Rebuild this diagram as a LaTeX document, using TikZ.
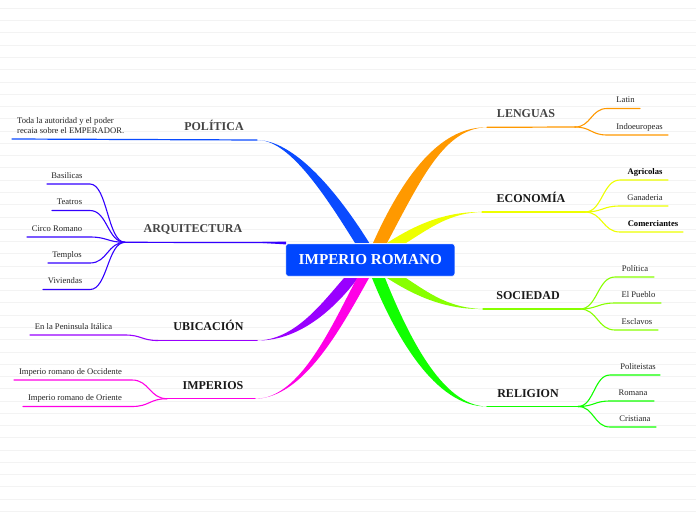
\documentclass[tikz,border=0pt]{standalone}
\usepackage{fontspec}
\setmainfont{Liberation Serif}
\usetikzlibrary{calc}
\definecolor{cmain}{HTML}{0046FF}
\definecolor{cpol}{HTML}{0A4BFF}
\definecolor{carq}{HTML}{3300FF}
\definecolor{cubi}{HTML}{9900FF}
\definecolor{cimp}{HTML}{FF00E6}
\definecolor{clen}{HTML}{FF9900}
\definecolor{ceco}{HTML}{EEFF00}
\definecolor{csoc}{HTML}{88FF00}
\definecolor{crel}{HTML}{11FF00}
\definecolor{cgrid}{HTML}{F3F3F3}
\definecolor{cdark}{HTML}{444444}
\tikzset{
  x=1pt,y=-1pt,
  branch/.style={line width=1.2pt,line cap=round},
  leafline/.style={line width=1.1pt,line cap=round},
  taper/.style={draw=none},
  small/.style={font=\fontsize{8.6}{10}\selectfont,text=black!85,inner sep=0pt},
  smallb/.style={font=\fontsize{8.6}{10}\selectfont\bfseries,text=black,inner sep=0pt},
  head/.style={font=\fontsize{12}{14}\selectfont\bfseries,text=black!90,inner sep=0pt},
  headg/.style={font=\fontsize{12}{14}\selectfont\bfseries,text=cdark,inner sep=0pt},
  mainbox/.style={fill=cmain,draw=white,line width=.6pt,rounded corners=2.5pt,minimum width=169pt,minimum height=32.5pt,inner sep=0pt,text=white,font=\fontsize{15.2}{18}\selectfont\bfseries},
}
% #1 name, #2 colour, #3 hub, #4 knee x, #5 end x, #6 y
\newcommand{\leaf}[6]{%
  \coordinate (#1k) at (#4,#6);
  \coordinate (#1e) at (#5,#6);
  \coordinate (#1m) at ($(#3)!.5!(#1k)$);
  \draw[leafline,#2] (#3) .. controls (#1m |- #3) and (#1m |- #1k) .. (#1k) -- (#1e);
}
\begin{document}
\begin{tikzpicture}
\useasboundingbox (0,0) rectangle (696,520);
\fill[white] (0,0) rectangle (696,520);
\foreach \i in {0,...,41}{
  \draw[cgrid,line width=.7pt] (0,8.3+12.27*\i) -- (696,8.3+12.27*\i);
}
% hubs and ends
\coordinate (polA) at (12,139);
\coordinate (polB) at (257,140);
\coordinate (arqH) at (125,242.3);
\coordinate (ubiH) at (158,340.5);
\coordinate (ubiB) at (257,340.5);
\coordinate (impH) at (167,398.7);
\coordinate (impB) at (255,398.7);
\coordinate (lenB) at (487,127.3);
\coordinate (lenH) at (575,127);
\coordinate (ecoB) at (482,212);
\coordinate (ecoH) at (585,212);
\coordinate (socB) at (483,309);
\coordinate (socH) at (580,309);
\coordinate (relB) at (487,406.5);
\coordinate (relH) at (578,406.5);
% thick tapered branches
\fill[taper,cpol] (355,243) .. controls (322,190) and (288,139.5) .. (polB) .. controls (292,140.5) and (333,185) .. (369.3,243) -- cycle;
\fill[taper,clen] (373,243) .. controls (408,165) and (445,126.7) .. (lenB) .. controls (445,127.9) and (422,177) .. (387,243) -- cycle;
\fill[taper,ceco] (387,243) .. controls (415,225) and (445,211.4) .. (ecoB) .. controls (450,212.8) and (430,228) .. (406,243) -- cycle;
\fill[taper,csoc] (387,278) .. controls (415,296) and (445,309.6) .. (socB) .. controls (450,308.2) and (430,294) .. (406,278) -- cycle;
\fill[taper,crel] (372,278) .. controls (395,335) and (435,407) .. (relB) .. controls (442,406) and (408,335) .. (385,278) -- cycle;
\fill[taper,cubi] (344,278) .. controls (322,303) and (295,340) .. (ubiB) .. controls (295,341) and (330,315) .. (358,278) -- cycle;
\fill[taper,cimp] (357,278) .. controls (332,325) and (300,399.3) .. (impB) .. controls (303,398.1) and (340,330) .. (369,278) -- cycle;
% thin parts of branches
\draw[branch,cpol] (polA) -- (polB);
\draw[branch,carq] (arqH) -- (280,242.6);
\fill[carq] (250,242.2) -- (286,241.6) -- (286,244.4) -- cycle;
\draw[branch,cubi] (ubiH) -- (ubiB);
\draw[branch,cimp] (impH) -- (impB);
\draw[branch,clen] (lenB) -- (lenH);
\draw[branch,ceco] (ecoB) -- (ecoH);
\draw[branch,csoc] (socB) -- (socH);
\draw[branch,crel] (relB) -- (relH);
% leaves
\leaf{a1}{carq}{arqH}{90}{47}{184}
\leaf{a2}{carq}{arqH}{90}{52}{210.5}
\leaf{a3}{carq}{arqH}{90}{27}{237}
\leaf{a4}{carq}{arqH}{90}{48}{263}
\leaf{a5}{carq}{arqH}{90}{43}{289.5}
\leaf{u1}{cubi}{ubiH}{125}{30}{335}
\leaf{i1}{cimp}{impH}{132}{14}{380}
\leaf{i2}{cimp}{impH}{132}{23}{406.5}
\leaf{l1}{clen}{lenH}{607}{640}{108.5}
\leaf{l2}{clen}{lenH}{607}{668}{135}
\leaf{e1}{ceco}{ecoH}{620}{668}{180}
\leaf{e2}{ceco}{ecoH}{620}{668}{206}
\leaf{e3}{ceco}{ecoH}{620}{683}{232}
\leaf{s1}{csoc}{socH}{615}{654}{277}
\leaf{s2}{csoc}{socH}{615}{661}{303}
\leaf{s3}{csoc}{socH}{615}{658}{330}
\leaf{r1}{crel}{relH}{610}{660}{375}
\leaf{r2}{crel}{relH}{610}{654}{401}
\leaf{r3}{crel}{relH}{610}{656}{427}
% centre
\node[mainbox] (main) at (370.3,260) {\raisebox{-2.2pt}{IMPERIO ROMANO}};
% headings
\node[headg] (tpol) at (214,125) {POLÍTICA};
\node[headg] (tarq) at (193,229) {ARQUITECTURA};
\node[head] (tubi) at (208.5,325) {UBICACIÓN};
\node[head] (timp) at (213,386) {IMPERIOS};
\node[headg] (tlen) at (526,114) {LENGUAS};
\node[head] (teco) at (531,197) {ECONOMÍA};
\node[head] (tsoc) at (528,296) {SOCIEDAD};
\node[head] (trel) at (528,394) {RELIGION};
% leaf labels
\node[small,align=left,anchor=west] (tp1) at (17,125.5) {Toda la autoridad y el poder\\recaia sobre el EMPERADOR.};
\node[small] (ta1) at (67,176) {Basilicas};
\node[small] (ta2) at (69.5,202) {Teatros};
\node[small] (ta3) at (57,229) {Circo Romano};
\node[small] (ta4) at (67,255) {Templos};
\node[small] (ta5) at (65,281) {Viviendas};
\node[small] (tu1) at (73.5,327) {En la Peninsula Itálica};
\node[small] (ti1) at (70.5,372) {Imperio romano de Occidente};
\node[small] (ti2) at (75,398) {Imperio romano de Oriente};
\node[small] (tl1) at (625.5,100) {Latin};
\node[small] (tl2) at (639.5,127) {Indoeuropeas};
\node[smallb] (te1) at (645,172) {Agricolas};
\node[small] (te2) at (645,198) {Ganaderia};
\node[smallb] (te3) at (653,224) {Comerciantes};
\node[small] (ts1) at (635,269) {Política};
\node[small] (ts2) at (638.5,295) {El Pueblo};
\node[small] (ts3) at (637,322) {Esclavos};
\node[small] (tr1) at (638,367) {Politeistas};
\node[small] (tr2) at (633,393) {Romana};
\node[small] (tr3) at (635,419) {Cristiana};
\end{tikzpicture}
\end{document}
